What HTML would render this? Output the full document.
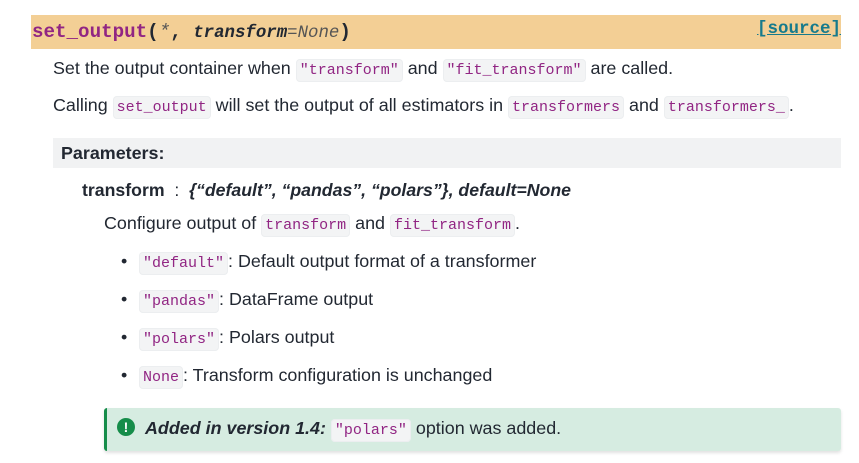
<!DOCTYPE html>
<html><head><meta charset="utf-8"><style>
body{margin:0;width:859px;height:463px;background:#fff;position:relative;overflow:hidden;font-family:"Liberation Sans",sans-serif;color:#222832;font-size:17.9px}
.a{position:absolute;white-space:nowrap}
code{font-family:"Liberation Mono",monospace;font-size:15px;color:#912583;background:#f3f4f5;border-radius:4px;padding:2px 3px;border:1px solid #eceef0}
.mono{font-family:"Liberation Mono",monospace}
</style></head><body>
<div class="a" style="left:31px;top:15px;width:810px;height:34px;background:#f3cf95"></div>
<div class="a mono" style="left:32px;top:20px;font-size:19.2px;line-height:24px"><b style="color:#912583">set_output</b><b>(</b><i style="color:#555">*</i><b>, </b><b><i style="font-size:17.4px">transform</i></b><i style="color:#555;font-size:17.4px">=None</i><b>)</b></div>
<div class="a mono" style="left:757px;top:19px;font-size:17.5px;font-weight:bold;color:#167a8c;text-decoration:underline">[source]</div>
<div class="a" style="left:53px;top:57px;line-height:22px">Set the output container when <code>"transform"</code> and <code>"fit_transform"</code> are called.</div>
<div class="a" style="left:53px;top:94px;line-height:22px">Calling <code>set_output</code> will set the output of all estimators in <code>transformers</code> and <code>transformers_</code>.</div>
<div class="a" style="left:53px;top:138px;width:788px;height:30px;background:#f1f2f3"></div>
<div class="a" style="left:61px;top:142px;font-weight:bold;line-height:22px">Parameters:</div>
<div class="a" style="left:82px;top:179px;line-height:22px;font-size:17.7px"><b>transform</b> &nbsp;: &nbsp;<b><i>{“default”, “pandas”, “polars”}, default=None</i></b></div>
<div class="a" style="left:104px;top:212px;line-height:22px">Configure output of <code>transform</code> and <code>fit_transform</code>.</div>
<div class="a" style="left:121px;top:250px;line-height:22px">•</div>
<div class="a" style="left:121px;top:288px;line-height:22px">•</div>
<div class="a" style="left:121px;top:326px;line-height:22px">•</div>
<div class="a" style="left:121px;top:364px;line-height:22px">•</div>
<div class="a" style="left:139px;top:250px;line-height:22px"><code>"default"</code>: Default output format of a transformer</div>
<div class="a" style="left:139px;top:288px;line-height:22px"><code>"pandas"</code>: DataFrame output</div>
<div class="a" style="left:139px;top:326px;line-height:22px"><code>"polars"</code>: Polars output</div>
<div class="a" style="left:139px;top:364px;line-height:22px"><code>None</code>: Transform configuration is unchanged</div>
<div class="a" style="left:104px;top:408px;width:734px;height:43px;background:#d6ece1;border-left:3px solid #168d4a;border-radius:3px;box-shadow:0 2px 3px rgba(0,0,0,.12)"></div>
<div class="a" style="left:117px;top:418px;width:18px;height:18px;border-radius:50%;background:#168d4a;color:#fff;font-weight:bold;font-size:14px;text-align:center;line-height:18px">!</div>
<div class="a" style="left:145px;top:417px;line-height:22px;font-size:17.9px"><b><i>Added in version 1.4:</i></b> <code>"polars"</code> option was added.</div>
</body></html>
